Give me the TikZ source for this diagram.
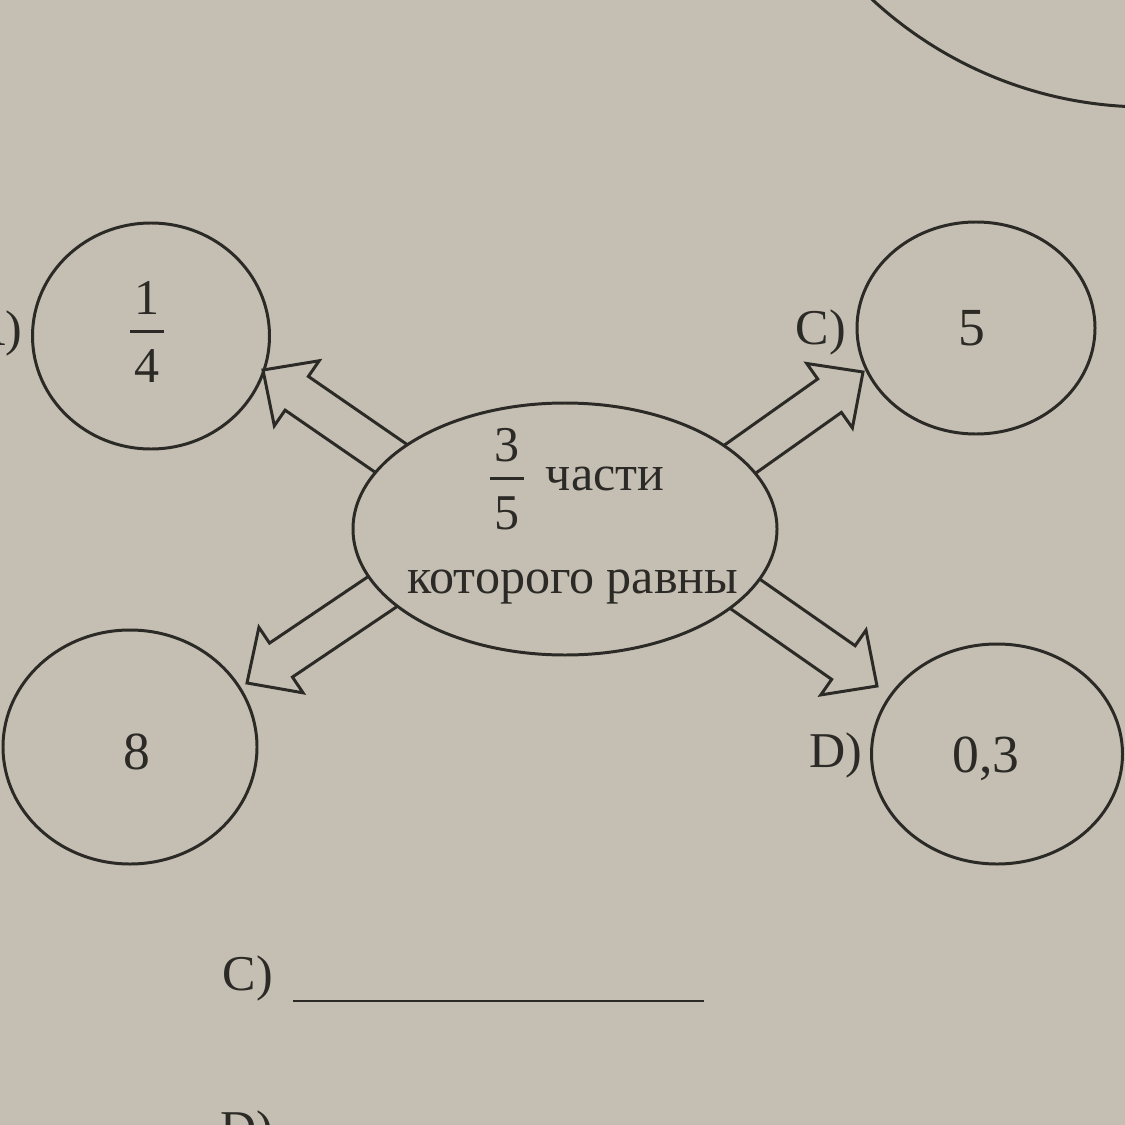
\documentclass[tikz,border=0pt]{standalone}
\usepackage{fontspec}
\setmainfont{Liberation Serif}
\usetikzlibrary{shapes.geometric,calc}
\definecolor{paper}{RGB}{196,191,178}
\definecolor{ink}{RGB}{44,42,38}
\newcommand\txtsize{\fontsize{28.5}{34}\selectfont}
\newcommand\numsize{\fontsize{30.5}{36}\selectfont}
\newcommand\vfr[2]{\vbox{\offinterlineskip\halign{\hfil##\hfil\cr #1\cr\noalign{\kern9pt}\rule{19pt}{1.5pt}\cr\noalign{\kern9.5pt}#2\cr}}}
\newcommand\arrHL{0.82cm}
\newcommand\arrHW{0.79cm}
\newcommand\arrSW{0.41cm}
\newcommand\blockarrow[2]{%
  \coordinate (ba-b) at ($(#2)!\arrHL!(#1)$);
  \draw[arrbody] ($(#1)!\arrSW!90:(#2)$) -- ($(ba-b)!\arrSW!90:(#2)$)
    -- ($(ba-b)!\arrHW!90:(#2)$) -- (#2) -- ($(ba-b)!\arrHW!-90:(#2)$)
    -- ($(ba-b)!\arrSW!-90:(#2)$) -- ($(#1)!\arrSW!-90:(#2)$) -- cycle;}
\begin{document}
\begin{tikzpicture}[x=0.02cm,y=-0.02cm,
  every node/.style={text=ink},
  ring/.style={draw=ink, line width=1.7pt, ellipse, inner sep=0pt},
  arrbody/.style={draw=ink, fill=paper, line width=1.7pt, line join=miter},
  lbl/.style={font=\txtsize, inner sep=0pt},
  num/.style={font=\numsize, inner sep=0pt}]
\fill[paper] (0,0) rectangle (1125,1125);
\useasboundingbox (0,0) rectangle (1125,1125);
% partial circle at the top right
\node[ring, minimum width=810*0.02cm, minimum height=810*0.02cm] (top) at (1147,-298) {};
% four answer circles
\node[ring, minimum width=237*0.02cm, minimum height=226*0.02cm] (ca) at (151,336) {};
\node[ring, minimum width=238*0.02cm, minimum height=212*0.02cm] (cc) at (976,328) {};
\node[ring, minimum width=254*0.02cm, minimum height=234*0.02cm] (cb) at (130,747) {};
\node[ring, minimum width=251*0.02cm, minimum height=220*0.02cm] (cd) at (997,754) {};
% their values
\node[lbl] (va) at (147,332) {\vfr{1}{4}};
\node[num] (vc) at (972,328) {5};
\node[num] (vb) at (137,752) {8};
\node[num, anchor=base] (vd) at (986,772) {0,3};
% labels
\node[lbl, anchor=base east] (la) at (23,345) {A)};
\node[lbl] (lc) at (821,332) {C)};
\node[lbl] (ld) at (836,755) {D)};
% arrows
\coordinate (sa) at (421,479); \coordinate (ta) at (263,370);
\coordinate (sc) at (712,479); \coordinate (tc) at (863,372);
\coordinate (sb) at (422,565); \coordinate (tb) at (247,683);
\coordinate (sd) at (708,568); \coordinate (td) at (877,686);
\blockarrow{sa}{ta}
\blockarrow{sc}{tc}
\blockarrow{sb}{tb}
\blockarrow{sd}{td}
% central ellipse
\node[ring, fill=paper, minimum width=424*0.02cm, minimum height=252*0.02cm] (e) at (565,529) {};
\node[lbl] (ef) at (507,479) {\vfr{3}{5}};
\node[lbl, anchor=base] (ech) at (605,490) {части};
\node[lbl, anchor=base] (ek) at (573,593) {которого равны};
% answer lines below
\node[lbl] (bc) at (248,978) {C)};
\coordinate (l1) at (293,1001); \coordinate (l2) at (704,1001);
\draw[ink, line width=1.3pt] (l1) -- (l2);
\node[lbl, anchor=north] (bd) at (247,1110) {D)};
\end{tikzpicture}
\end{document}
